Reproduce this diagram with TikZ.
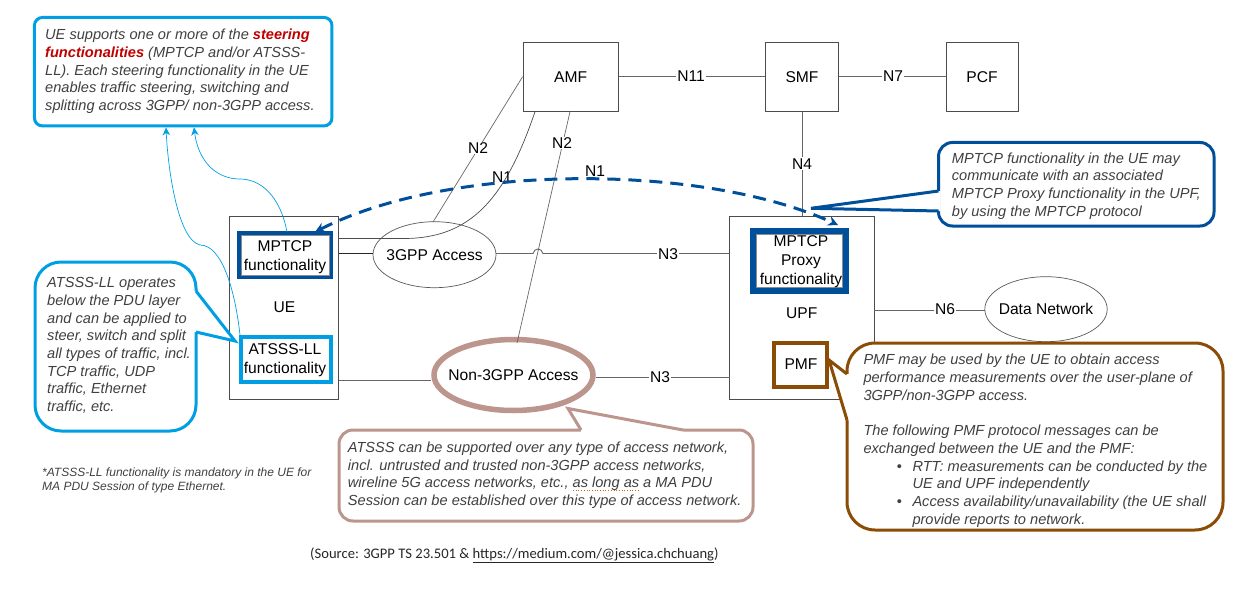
\documentclass[tikz,border=0pt]{standalone}
\usepackage{fontspec}
\setmainfont{Liberation Sans}
\newfontfamily\srcfont{Carlito}
\usetikzlibrary{arrows.meta,shapes.geometric}
\definecolor{skyb}{HTML}{009FE3}
\definecolor{navyb}{HTML}{004F9A}
\definecolor{rosy}{HTML}{BC958C}
\definecolor{brownb}{HTML}{8B4C06}
\definecolor{redb}{HTML}{C00000}
\definecolor{txt}{HTML}{404040}
\newcommand{\ztext}[1]{\makebox[0pt]{#1}}
\tikzset{
 nf/.style={draw=black!70,line width=.9pt,fill=white,inner sep=0pt,font=\fontsize{15.6}{19}\selectfont,align=center},
 oval/.style={ellipse,draw=black!65,line width=.7pt,fill=white,inner sep=0pt,font=\fontsize{15.6}{19}\selectfont},
 lnk/.style={draw=black!60,line width=.9pt},
 lab/.style={fill=white,inner sep=1pt,font=\fontsize{15.6}{19}\selectfont},
 labn/.style={inner sep=0pt,font=\fontsize{15.6}{19}\selectfont,align=center},
 fbox/.style={fill=white,inner sep=0pt},
 innerline/.style={draw=black!45,line width=.5pt,inner sep=0pt},
 note/.style={anchor=north west,inner sep=0pt,align=left,text=txt,font=\fontsize{14.6}{17.7}\selectfont\itshape},
 thinarrow/.style={draw=skyb,line width=.7pt,-{Stealth[length=8pt,width=7.5pt]}},
 callbox/.style={draw,fill=white,line width=3pt,inner sep=0pt},
 wedgefill/.style={fill=white,draw=none},
 wedgeline/.style={line width=3pt,line join=miter,fill=none},
}
\begin{document}
\begin{tikzpicture}[x=1pt,y=-1pt]
\useasboundingbox (0,0) rectangle (1250,591);
% network function boxes
\node[nf,minimum width=95.5pt,minimum height=69.7pt] (amf) at (570.7,76.85) {AMF};
\node[nf,minimum width=72.6pt,minimum height=69.7pt] (smf) at (802,76.85) {SMF};
\node[nf,minimum width=72pt,minimum height=69.7pt] (pcf) at (982,76.85) {PCF};
\node[nf,minimum width=109pt,minimum height=183pt] (ue) at (284,308) {};
\node[nf,minimum width=145pt,minimum height=182.6pt] (upf) at (801.8,308) {};
\node[oval,minimum width=123pt,minimum height=66pt] (acc) at (434.5,254.7) {\ztext{3GPP Access}};
\node[oval,minimum width=122.4pt,minimum height=65pt] (dn) at (1046,309.2) {\ztext{Data Network}};
\node[oval,draw=rosy,line width=5.5pt,minimum width=159pt,minimum height=71pt] (non) at (513.5,375) {\ztext{\raisebox{-1.5pt}{Non-3GPP Access}}};
% free ends
\coordinate (ueA) at (338.5,238.5);
\coordinate (ueB) at (338.5,253);
\coordinate (ueC) at (338.5,380);
\coordinate (nonL) at (431,380);
\coordinate (nonR) at (596,377.7);
\coordinate (accB) at (373,253);
\coordinate (accE) at (496,253.5);
\coordinate (upfA) at (729.5,253.5);
\coordinate (upfC) at (729.5,377.7);
\coordinate (upfD) at (874.3,310);
\coordinate (dnW) at (985,310);
\coordinate (accT) at (433,222);
\coordinate (amfB) at (535,111.7);
\coordinate (amfC) at (570,111.7);
\coordinate (nonT) at (517,343);
\coordinate (hopA) at (533,253.5);
\coordinate (hopB) at (543,253.5);
\coordinate (n1bend) at (405,238.5);
% connectors
\draw[lnk] (amf) -- (smf);
\draw[lnk] (smf) -- (pcf);
\draw[lnk] (smf) -- (upf.north -| smf);
\draw[lnk] (upfD) -- (dnW);
\draw[lnk,line width=.7pt] (amf.west) -- (accT);
\draw[lnk,line width=.7pt] (amfC) -- (nonT);
\draw[draw=black!70,line width=.7pt] (ueA) -- (n1bend) .. controls (470,238) and (505,200) .. (amfB);
\draw[draw=black!85,line width=.8pt] (ueB) -- (accB);
\draw[lnk] (ueC) -- (nonL);
\draw[lnk] (nonR) -- (upfC);
\draw[lnk] (accE) -- (hopA) .. controls (534.5,247.5) and (541.5,247.5) .. (hopB) -- (upfA);
% interface labels
\node[lab] (n11) at (691,76.5) {N11};
\node[lab] (n7) at (893,76.5) {N7};
\node[lab] (n4) at (802,163.7) {N4};
\node[lab] (n6) at (945,309) {N6};
\node[lab] (n2a) at (478,148) {N2};
\node[lab] (n2b) at (562,143) {N2};
\node[labn] (n1a) at (502,177) {N1};
\node[labn] (n1b) at (595,171) {N1};
\node[lab] (n3a) at (668,254) {N3};
\node[lab] (n3b) at (660,377.5) {N3};
% functions inside UE and UPF
\node[fbox,draw=navyb,line width=4pt,minimum width=92.5pt,minimum height=44pt] (mptcp) at (285.2,255) {};
\node[innerline,minimum width=88pt,minimum height=39.5pt] (mptcpin) at (285.2,255) {};
\node[labn] (mptcpt) at (285,257) {MPTCP\\functionality};
\node[fbox,draw=skyb,line width=3.5pt,minimum width=90pt,minimum height=45pt] (atsss) at (286,359.3) {};
\node[labn] (atssst) at (285,360.2) {ATSSS-LL\\functionality};
\node[fbox,draw=navyb,line width=6pt,minimum width=93pt,minimum height=60pt] (proxy) at (799,260.5) {};
\node[innerline,minimum width=86pt,minimum height=53pt] (proxyin) at (799,260.5) {};
\node[labn] (proxyt) at (801,261.5) {MPTCP\\Proxy\\functionality};
\node[fbox,draw=brownb,line width=4pt,minimum width=52.5pt,minimum height=44pt] (pmf) at (800.7,365) {};
\node[labn] (pmft) at (801,364) {PMF};
\node[labn] (uel) at (284.5,307) {UE};
\node[labn] (upfl) at (801.7,313) {UPF};
% dashed protocol arc
\coordinate (arcA) at (315,232);
\coordinate (arcB) at (838,225);
\draw[draw=navyb,line width=3pt,dash pattern=on 13pt off 8pt,{Stealth[length=10pt,width=10pt]}-{Stealth[length=10pt,width=10pt]}]
  (arcA) .. controls (450,163) and (702,163) .. (arcB);
% top callout
\node[callbox,draw=skyb,rounded corners=8pt,minimum width=297.5pt,minimum height=108.5pt] (nt) at (183.2,71.7) {};
\node[note] (ntt) at (45,29) {UE supports one or more of the \textbf{\textcolor{redb}{steering}}\\\textbf{\textcolor{redb}{functionalities}} (MPTCP and/or ATSSS-\\LL). Each steering functionality in the UE\\enables traffic steering, switching and\\splitting across 3GPP/ non-3GPP access.};
\coordinate (thinA) at (287,232);
\coordinate (thinB) at (240,335);
\draw[thinarrow] (thinA) .. controls (280,195) and (260,179) .. (240,179) .. controls (215,179) and (198,160) .. (nt.south -| 194,0);
\draw[thinarrow] (thinB) .. controls (235,290) and (222,245) .. (200,245) .. controls (178,240) and (168,170) .. (nt.south -| 166,0);
% ATSSS-LL callout
\node[callbox,draw=skyb,rounded corners=26pt,minimum width=161pt,minimum height=169pt] (na) at (115.5,346.5) {};
\coordinate (naA) at (196,291);
\coordinate (naB) at (196,332);
\coordinate (naT) at (235,341);
\fill[wedgefill] (naA) -- (naT) -- (naB) -- ++(-2,0) -- ++(0,-41) -- cycle;
\draw[wedgeline,draw=skyb] (naA) -- (naT) -- (naB);
\node[note] (nl) at (47,277.3) {ATSSS-LL operates\\below the PDU layer\\and can be applied to\\steer, switch and split\\all types of traffic, incl.\\TCP traffic, UDP\\traffic, Ethernet\\traffic, etc.};
% footnote
\node[note,font=\fontsize{12}{14}\selectfont\itshape] (fn) at (42,467.5) {*ATSSS-LL functionality is mandatory in the UE for\\MA PDU Session of type Ethernet.};
% MPTCP callout
\node[callbox,draw=navyb,rounded corners=14pt,minimum width=275.5pt,minimum height=83.5pt] (nm) at (1076.25,184.25) {};
\coordinate (nmA) at (938.5,191);
\coordinate (nmB) at (938.5,211);
\coordinate (nmT) at (811,208.3);
\fill[wedgefill] (nmA) -- (nmT) -- (nmB) -- ++(2,0) -- ++(0,-20) -- cycle;
\draw[wedgeline,draw=navyb] (nmA) -- (nmT) -- (nmB);
\node[note] (nmt) at (951.7,152.5) {MPTCP functionality in the UE may\\communicate with an associated\\MPTCP Proxy functionality in the UPF,\\by using the MPTCP protocol};
% non-3GPP callout
\node[callbox,draw=rosy,rounded corners=14pt,minimum width=414pt,minimum height=91pt] (nn) at (546,475.5) {};
\coordinate (nnA) at (581,430);
\coordinate (nnB) at (683,430);
\coordinate (nnT) at (568,408.5);
\fill[wedgefill] (nnA) -- (nnT) -- (nnB) -- ++(0,2) -- ++(-102,0) -- cycle;
\draw[wedgeline,draw=rosy] (nnA) -- (nnT) -- (nnB);
\node[note] (nnt) at (347.7,441.7) {ATSSS can be supported over any type of access network,\\incl. untrusted and trusted non-3GPP access networks,\\wireline 5G access networks, etc., as long as a MA PDU\\Session can be established over this type of access network.};
\coordinate (dotA) at (573,490);
\coordinate (dotB) at (639,490);
\draw[draw=orange!80!black,line width=.7pt,dotted] (dotA) -- (dotB);
% PMF callout
\node[callbox,draw=brownb,rounded corners=28pt,minimum width=376pt,minimum height=187pt] (np) at (1035,436.5) {};
\coordinate (npA) at (847,374);
\coordinate (npB) at (847,420);
\coordinate (npT) at (829,360);
\fill[wedgefill] (npA) -- (npT) -- (npB) -- ++(2,0) -- ++(0,-46) -- cycle;
\draw[wedgeline,draw=brownb] (npA) -- (npT) -- (npB);
\node[note] (npt) at (863.3,354.2) {PMF may be used by the UE to obtain access\\performance measurements over the user-plane of\\3GPP/non-3GPP access.\\[17.7pt]The following PMF protocol messages can be\\exchanged between the UE and the PMF:\\\hspace{33.3pt}\makebox[15.7pt][l]{\textup{•}}RTT: measurements can be conducted by the\\\hspace{49pt}UE and UPF independently\\\hspace{33.3pt}\makebox[15.7pt][l]{\textup{•}}Access availability/unavailability (the UE shall\\\hspace{49pt}provide reports to network.};
% source
\node[inner sep=0pt,anchor=base west,text=black!85,font=\srcfont\fontsize{14.6}{16}\selectfont] (src) at (310,558.5) {(Source: 3GPP TS 23.501 \& \underline{https://medium.com/@jessica.chchuang})};
\end{tikzpicture}
\end{document}
